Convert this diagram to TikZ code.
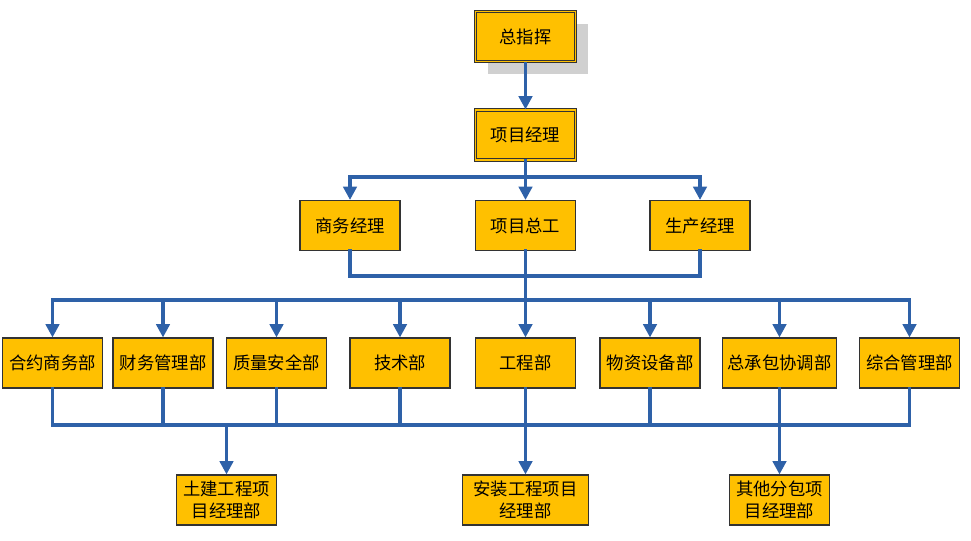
\documentclass[tikz,border=0pt]{standalone}
\usepackage{fontspec}
\setmainfont{Noto Sans CJK SC}
\usetikzlibrary{arrows.meta,shadows}
\definecolor{boxfill}{RGB}{255,192,0}
\definecolor{linkblue}{RGB}{46,97,168}
\definecolor{shadowgray}{RGB}{208,208,208}
\tikzset{
  unit/.style={draw=black!80,fill=boxfill,line width=0.8pt,minimum width=75pt,minimum height=37.5pt,
    inner sep=1pt,align=center,font=\fontsize{13}{16.5}\selectfont},
  headunit/.style={unit,line width=0.75pt,double=boxfill,double distance=1.4pt},
  link/.style={draw=linkblue,line width=2.5pt,line cap=rect},
  arr/.style={link,line cap=butt,-{Triangle[length=10pt,width=10pt]}},
}
\begin{document}
\begin{tikzpicture}[x=0.75pt,y=0.75pt,yscale=-1,xscale=1]
	\useasboundingbox (0,0) rectangle (971,540);
	
	% Top level
	\node [headunit,drop shadow={shadow xshift=9pt,shadow yshift=-9pt,fill=shadowgray,opacity=1}] (zzh) at (525.5,36.5) {总指挥};
	\node [headunit] (xmjl) at (525.5,135) {项目经理};
	
	% Second level
	\node [unit] (swjl) at (350,225.5) {商务经理};
	\node [unit] (xmzg) at (525.5,225.5) {项目总工};
	\node [unit] (scjl) at (700,225.5) {生产经理};
	
	% Departments
	\node [unit] (hy) at (52.5,363) {合约商务部};
	\node [unit] (cw) at (163,363) {财务管理部};
	\node [unit] (zl) at (276.5,363) {质量安全部};
	\node [unit] (js) at (400,363) {技术部};
	\node [unit] (gc) at (525.5,363) {工程部};
	\node [unit] (wz) at (650,363) {物资设备部};
	\node [unit,minimum width=85pt] (zcb) at (779.5,363) {总承包协调部};
	\node [unit] (zh) at (909.5,363) {综合管理部};
	
	% Project divisions
	\node [unit] (tj) at (226.5,500) {土建工程项\\目经理部};
	\node [unit,minimum width=94pt] (az) at (525.5,500) {安装工程项目\\经理部};
	\node [unit] (qt) at (779.5,500) {其他分包项\\目经理部};
	
	% Bus lines
	\coordinate (bus1) at (525.5,177);
	\coordinate (bus2) at (525.5,276);
	\coordinate (bus3) at (525.5,300);
	\coordinate (bus4) at (525.5,425);
	
	\draw [arr] (zzh) -- (xmjl);
	
	\draw [link] (xmjl) -- (bus1);
	\draw [link] (swjl |- bus1) -- (scjl |- bus1);
	\foreach \n in {swjl,xmzg,scjl}
		\draw [arr] (\n |- bus1) -- (\n);
	
	\foreach \n in {swjl,xmzg,scjl}
		\draw [link] (\n) -- (\n |- bus2);
	\draw [link] (swjl |- bus2) -- (scjl |- bus2);
	\draw [link] (bus2) -- (bus3);
	
	\draw [link] (hy |- bus3) -- (zh |- bus3);
	\foreach \n in {hy,cw,zl,js,gc,wz,zcb,zh}
		\draw [arr] (\n |- bus3) -- (\n);
	
	\foreach \n in {hy,cw,zl,js,gc,wz,zcb,zh}
		\draw [link] (\n) -- (\n |- bus4);
	\draw [link] (hy |- bus4) -- (zh |- bus4);
	\foreach \n in {tj,az,qt}
		\draw [arr] (\n |- bus4) -- (\n);
\end{tikzpicture}
\end{document}
